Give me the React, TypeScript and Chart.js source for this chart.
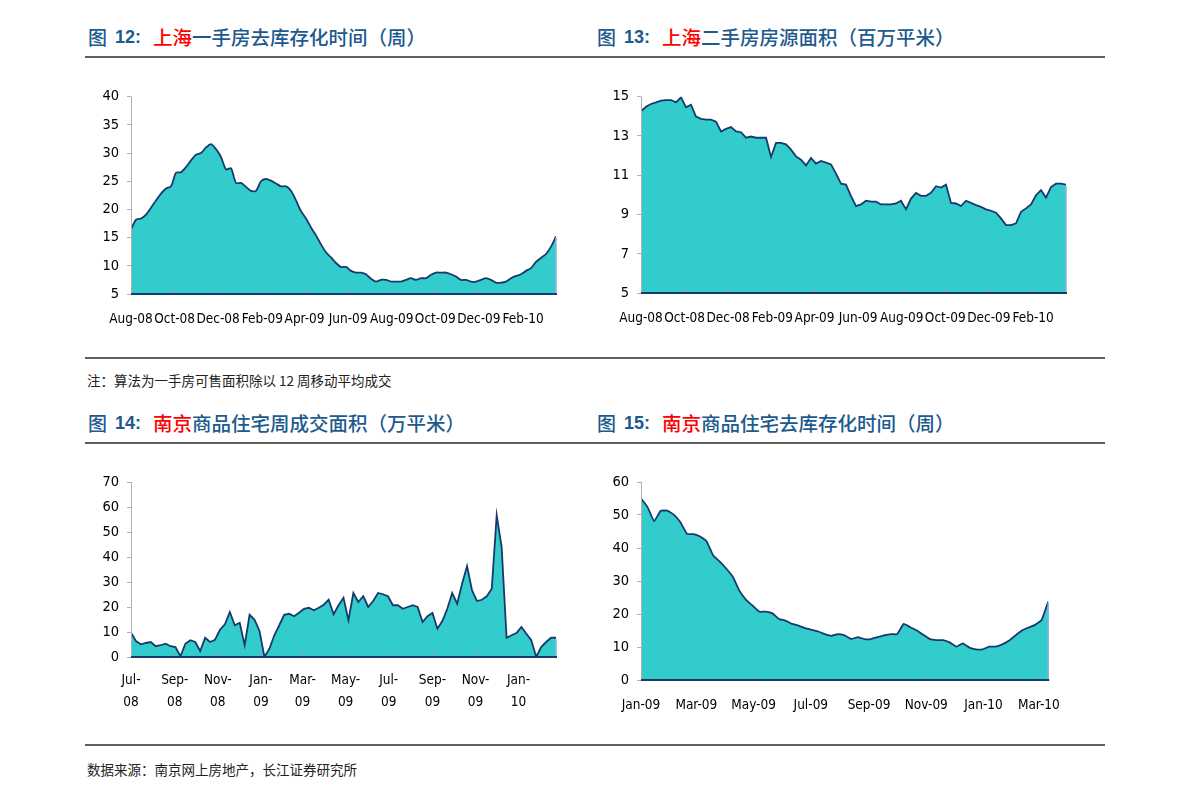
import React, { useEffect, useRef } from "react";
import { Chart, registerables } from "chart.js";

Chart.register(...registerables);

// ---------- data ----------
const shNewTicks = ["Aug-08", "Oct-08", "Dec-08", "Feb-09", "Apr-09", "Jun-09", "Aug-09", "Oct-09", "Dec-09", "Feb-10"];
const shNewStart = "Aug-08";
const shNewWeeks = [
  16.4, 18.2, 18.4, 19.1, 20.3, 21.6, 22.8, 23.7, 24.1, 26.5,
  26.6, 27.5, 28.7, 29.7, 30.0, 31.0, 31.6, 30.7, 29.3, 27.1,
  27.3, 24.7, 24.7, 24.0, 23.3, 23.3, 25.0, 25.4, 25.1, 24.6,
  24.1, 24.1, 23.3, 21.6, 19.7, 18.4, 16.8, 15.4, 13.8, 12.4,
  11.5, 10.5, 9.8, 9.8, 9.1, 8.8, 8.8, 8.5, 7.7, 7.2,
  7.5, 7.5, 7.2, 7.2, 7.2, 7.5, 7.8, 7.5, 7.8, 7.8,
  8.4, 8.8, 8.8, 8.8, 8.5, 8.1, 7.5, 7.5, 7.2, 7.2,
  7.5, 7.8, 7.5, 7.0, 7.0, 7.2, 7.8, 8.2, 8.5, 9.1,
  9.6, 10.7, 11.4, 12.1, 13.4, 15.2,
];

const shUsedTicks = ["Aug-08", "Oct-08", "Dec-08", "Feb-09", "Apr-09", "Jun-09", "Aug-09", "Oct-09", "Dec-09", "Feb-10"];
const shUsedStart = "Aug-08";
const shUsedArea = [
  14.26, 14.49, 14.63, 14.71, 14.8, 14.83, 14.83, 14.71, 14.97, 14.46,
  14.59, 13.99, 13.87, 13.83, 13.83, 13.73, 13.23, 13.36, 13.45, 13.23,
  13.19, 12.91, 12.97, 12.91, 12.91, 12.91, 11.93, 12.65, 12.65, 12.57,
  12.3, 11.96, 11.79, 11.5, 11.88, 11.59, 11.73, 11.64, 11.55, 11.08,
  10.57, 10.52, 9.93, 9.43, 9.51, 9.7, 9.65, 9.65, 9.51, 9.51,
  9.51, 9.56, 9.7, 9.26, 9.81, 10.1, 9.95, 9.95, 10.1, 10.44,
  10.37, 10.52, 9.59, 9.56, 9.43, 9.7, 9.59, 9.48, 9.39, 9.26,
  9.19, 9.09, 8.8, 8.46, 8.46, 8.55, 9.14, 9.31, 9.51, 9.98,
  10.24, 9.86, 10.4, 10.57, 10.57, 10.52,
];

const njSalesTicks = ["Jul-08", "Sep-08", "Nov-08", "Jan-09", "Mar-09", "May-09", "Jul-09", "Sep-09", "Nov-09", "Jan-10"];
const njSalesStart = "Jul-08";
const njSalesArea = [
  9.7, 6.4, 5.1, 5.6, 6.0, 4.3, 4.7, 5.3, 4.3, 4.0,
  0.3, 5.3, 6.7, 6.0, 2.4, 7.7, 6.0, 6.9, 10.9, 13.1,
  18.0, 12.7, 13.7, 4.7, 16.9, 14.9, 10.4, 0, 3.3, 8.7,
  12.7, 16.9, 17.3, 16.3, 17.7, 19.3, 19.7, 18.7, 19.7, 20.9,
  22.9, 17.1, 20.7, 23.7, 14.7, 25.6, 22.0, 24.3, 20.0, 22.4,
  25.6, 25.1, 24.3, 20.7, 20.7, 19.3, 20.0, 20.7, 20.0, 14.0,
  16.3, 17.6, 11.3, 14.4, 19.3, 25.6, 21.3, 29.3, 36.4, 26.7,
  22.4, 22.9, 24.3, 27.3, 56.7, 44.0, 7.7, 8.7, 9.6, 12.0,
  9.3, 6.7, 0, 4.0, 6.0, 7.7, 7.7,
];

const njStockTicks = ["Jan-09", "Mar-09", "May-09", "Jul-09", "Sep-09", "Nov-09", "Jan-10", "Mar-10"];
const njStockStart = "Jan-09";
const njStockWeeks = [
  55.0, 52.4, 48.1, 51.3, 51.3, 50.1, 47.8, 44.3, 44.2, 43.5,
  42.0, 37.7, 35.9, 33.7, 31.2, 27.0, 24.3, 22.5, 20.7, 20.7,
  20.2, 18.5, 18.0, 17.0, 16.5, 15.7, 15.2, 14.7, 13.9, 13.4,
  13.9, 13.5, 12.4, 13.0, 12.4, 12.4, 13.0, 13.5, 13.9, 13.9,
  17.0, 16.0, 15.0, 13.7, 12.4, 12.1, 12.1, 11.4, 10.1, 11.1,
  9.8, 9.3, 9.3, 10.1, 10.1, 10.8, 11.9, 13.5, 15.0, 15.9,
  16.7, 18.2, 23.8,
];

// ---------- helpers ----------
const MONTHS = ["Jan", "Feb", "Mar", "Apr", "May", "Jun", "Jul", "Aug", "Sep", "Oct", "Nov", "Dec"];
const DAY = 86400000;
function labelToUTC(lbl: string): number {
  const [m, y] = lbl.split("-");
  return Date.UTC(2000 + parseInt(y, 10), MONTHS.indexOf(m), 1);
}
function dayOf(lbl: string, start: string): number {
  return Math.round((labelToUTC(lbl) - labelToUTC(start)) / DAY);
}

const NARROW = '"DejaVu Sans Condensed", "Liberation Sans Narrow", Arial, sans-serif';
const FILL = "#33CCCC";
const LINE = "#163a6c";
const TITLE_BLUE = "#1d5a8e";

const decorPlugin = {
  id: "decor",
  afterDatasetsDraw(chart: any) {
    const { ctx, chartArea, scales } = chart;
    const xs = scales.x;
    ctx.save();
    // inward x tick marks
    ctx.strokeStyle = "#8aa0b4";
    ctx.lineWidth = 1;
    xs.ticks.forEach((t: any) => {
      const px = Math.round(xs.getPixelForValue(t.value)) + 0.5;
      if (px <= chartArea.left + 2) return;
      ctx.beginPath();
      ctx.moveTo(px, chartArea.bottom);
      ctx.lineTo(px, chartArea.bottom - 5);
      ctx.stroke();
    });
    // right edge of area
    const meta = chart.getDatasetMeta(0);
    const last = meta.data[meta.data.length - 1];
    if (last) {
      ctx.strokeStyle = "#8fb3dc";
      ctx.lineWidth = 1.5;
      ctx.beginPath();
      ctx.moveTo(last.x, last.y + 1);
      ctx.lineTo(last.x, chartArea.bottom);
      ctx.stroke();
    }
    // left axis (gray)
    ctx.strokeStyle = "#b0b0b0";
    ctx.lineWidth = 1;
    ctx.beginPath();
    ctx.moveTo(chartArea.left + 0.5, chartArea.top);
    ctx.lineTo(chartArea.left + 0.5, chartArea.bottom);
    ctx.stroke();
    // bottom axis (navy)
    ctx.strokeStyle = LINE;
    ctx.lineWidth = 2;
    ctx.beginPath();
    ctx.moveTo(chartArea.left, chartArea.bottom);
    ctx.lineTo(chartArea.right + 1, chartArea.bottom);
    ctx.stroke();
    ctx.restore();
  },
};

type AreaProps = {
  left: number;
  top: number;
  width: number;
  height: number;
  values: number[];
  start: string;
  ticks: string[];
  twoLine?: boolean;
  yMin: number;
  yMax: number;
  yStep: number;
  padTop: number;
  padRight: number;
  yWidth: number;
  xHeight: number;
  xPad: number;
  tension: number;
};

function AreaChart(p: AreaProps) {
  const ref = useRef<HTMLCanvasElement | null>(null);
  useEffect(() => {
    if (!ref.current) return;
    const pts = p.values.map((v, i) => ({ x: i * 7, y: v }));
    const tickDays = p.ticks.map((t) => dayOf(t, p.start));
    const labelFor = (v: number) => {
      const idx = tickDays.indexOf(Math.round(v));
      if (idx < 0) return "";
      const l = p.ticks[idx];
      if (p.twoLine) {
        const [m, y] = l.split("-");
        return [m + "-", y];
      }
      return l;
    };
    const chart = new Chart(ref.current, {
      type: "line",
      data: {
        datasets: [
          {
            data: pts,
            borderColor: LINE,
            borderWidth: 1.8,
            backgroundColor: FILL,
            fill: "start",
            pointRadius: 0,
            tension: p.tension,
          },
        ],
      },
      options: {
        responsive: false,
        animation: false,
        devicePixelRatio: 1,
        layout: { padding: { top: p.padTop, right: p.padRight, left: 0, bottom: 0 } },
        plugins: { legend: { display: false }, tooltip: { enabled: false } },
        scales: {
          x: {
            type: "linear",
            min: 0,
            max: (p.values.length - 1) * 7,
            afterBuildTicks: (scale: any) => {
              scale.ticks = tickDays.map((d) => ({ value: d }));
            },
            afterFit: (scale: any) => {
              scale.height = p.xHeight;
            },
            border: { display: false },
            grid: { display: false, drawTicks: false },
            ticks: {
              autoSkip: false,
              maxRotation: 0,
              padding: p.xPad,
              color: "#000",
              font: { family: NARROW, size: 13.5, lineHeight: 1.6 },
              callback: (v: any) => labelFor(Number(v)),
            },
          },
          y: {
            min: p.yMin,
            max: p.yMax,
            afterFit: (scale: any) => {
              scale.width = p.yWidth;
            },
            border: { display: false },
            grid: { drawOnChartArea: false, drawTicks: true, tickLength: 4, color: "#b0b0b0" },
            ticks: {
              stepSize: p.yStep,
              padding: 8,
              color: "#000",
              font: { family: NARROW, size: 14.5 },
            },
          },
        },
      },
      plugins: [decorPlugin],
    } as any);
    return () => chart.destroy();
  }, []);
  return (
    <canvas
      ref={ref}
      width={p.width}
      height={p.height}
      style={{ position: "absolute", left: p.left, top: p.top, width: p.width, height: p.height }}
    />
  );
}

function Title({ x, y, num, city, rest }: { x: number; y: number; num: string; city: string; rest: string }) {
  const cjk = '"Noto Sans CJK SC", "Noto Sans CJK TC", sans-serif';
  return (
    <div style={{ position: "absolute", left: x, top: y, height: 26, whiteSpace: "nowrap", color: TITLE_BLUE }}>
      <span style={{ position: "absolute", left: 0, top: 0, fontFamily: cjk, fontSize: 19, lineHeight: "26px", fontWeight: 500 }}>图</span>
      <span
        style={{
          position: "absolute",
          left: 27,
          top: 0,
          fontFamily: '"Liberation Sans", Arial, sans-serif',
          fontWeight: 700,
          fontSize: 18,
          lineHeight: "26px",
        }}
      >
        {num}:
      </span>
      <span style={{ position: "absolute", left: 65, top: 0, fontFamily: cjk, fontSize: 19.5, lineHeight: "26px", fontWeight: 500 }}>
        <span style={{ color: "#ff0000" }}>{city}</span>
        {rest}
      </span>
    </div>
  );
}

function Rule({ y }: { y: number }) {
  return <div style={{ position: "absolute", left: 85, top: y, width: 1020, height: 2, background: "#5f5f5f" }} />;
}

export default function App() {
  const small: React.CSSProperties = {
    position: "absolute",
    fontFamily: '"Noto Sans CJK SC", sans-serif',
    fontSize: 13.5,
    lineHeight: "18px",
    color: "#222",
    whiteSpace: "nowrap",
  };
  return (
    <div style={{ position: "absolute", left: 0, top: 0, width: 1191, height: 794, background: "#fff", overflow: "hidden" }}>
      <Title x={88} y={24} num="12" city="上海" rest="一手房去库存化时间（周）" />
      <Title x={597} y={24} num="13" city="上海" rest="二手房房源面积（百万平米）" />
      <Rule y={56} />

      <AreaChart
        left={85} top={80} width={480} height={260}
        values={shNewWeeks} start={shNewStart} ticks={shNewTicks}
        yMin={5} yMax={40} yStep={5}
        padTop={16} padRight={9} yWidth={46} xHeight={46} xPad={15} tension={0.25}
      />
      <AreaChart
        left={595} top={80} width={480} height={260}
        values={shUsedArea} start={shUsedStart} ticks={shUsedTicks}
        yMin={5} yMax={15} yStep={2}
        padTop={16} padRight={9} yWidth={46} xHeight={47} xPad={15} tension={0}
      />

      <Rule y={357} />
      <div style={{ ...small, left: 87, top: 371 }}>注：算法为一手房可售面积除以 12 周移动平均成交</div>

      <Title x={88} y={410} num="14" city="南京" rest="商品住宅周成交面积（万平米）" />
      <Title x={597} y={410} num="15" city="南京" rest="商品住宅去库存化时间（周）" />
      <Rule y={442} />

      <AreaChart
        left={85} top={465} width={480} height={270}
        values={njSalesArea} start={njSalesStart} ticks={njSalesTicks} twoLine
        yMin={0} yMax={70} yStep={10}
        padTop={17} padRight={9} yWidth={46} xHeight={78} xPad={13} tension={0}
      />
      <AreaChart
        left={595} top={465} width={480} height={265}
        values={njStockWeeks} start={njStockStart} ticks={njStockTicks}
        yMin={0} yMax={60} yStep={10}
        padTop={17} padRight={9} yWidth={46} xHeight={50} xPad={15} tension={0.1}
      />

      <Rule y={744} />
      <div style={{ ...small, left: 87, top: 760 }}>数据来源：南京网上房地产，长江证券研究所</div>
    </div>
  );
}
